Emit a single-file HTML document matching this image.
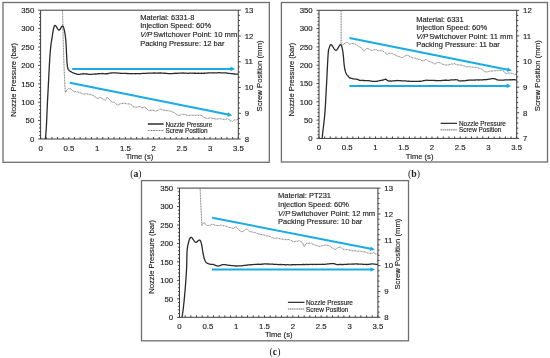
<!DOCTYPE html>
<html><head><meta charset="utf-8"><style>
html,body{margin:0;padding:0;background:#fff;}
body{width:550px;height:358px;overflow:hidden;}
svg{display:block;}
</style></head><body>
<svg width="550" height="358" viewBox="0 0 550 358">
<rect width="550" height="358" fill="#fff"/>
<clipPath id="clipa"><rect x="40.6" y="10.2" width="197.7" height="128.8"/></clipPath>
<rect x="3" y="2.5" width="266.3" height="159.8" fill="#fff" stroke="#6e6e6e" stroke-width="1.3"/>
<path d="M40.6 10.2H238.3V139H40.6Z" fill="none" stroke="#3c3c3c" stroke-width="1"/>
<path d="M38.1 139H40.6M39 135.32H40.6M39 131.64H40.6M39 127.96H40.6M39 124.28H40.6M38.1 120.6H40.6M39 116.92H40.6M39 113.24H40.6M39 109.56H40.6M39 105.88H40.6M38.1 102.2H40.6M39 98.52H40.6M39 94.84H40.6M39 91.16H40.6M39 87.48H40.6M38.1 83.8H40.6M39 80.12H40.6M39 76.44H40.6M39 72.76H40.6M39 69.08H40.6M38.1 65.4H40.6M39 61.72H40.6M39 58.04H40.6M39 54.36H40.6M39 50.68H40.6M38.1 47H40.6M39 43.32H40.6M39 39.64H40.6M39 35.96H40.6M39 32.28H40.6M38.1 28.6H40.6M39 24.92H40.6M39 21.24H40.6M39 17.56H40.6M39 13.88H40.6M38.1 10.2H40.6M238.3 139H240.8M238.3 133.85H239.9M238.3 128.7H239.9M238.3 123.54H239.9M238.3 118.39H239.9M238.3 113.24H240.8M238.3 108.09H239.9M238.3 102.94H239.9M238.3 97.78H239.9M238.3 92.63H239.9M238.3 87.48H240.8M238.3 82.33H239.9M238.3 77.18H239.9M238.3 72.02H239.9M238.3 66.87H239.9M238.3 61.72H240.8M238.3 56.57H239.9M238.3 51.42H239.9M238.3 46.26H239.9M238.3 41.11H239.9M238.3 35.96H240.8M238.3 30.81H239.9M238.3 25.66H239.9M238.3 20.5H239.9M238.3 15.35H239.9M238.3 10.2H240.8M40.6 137V139M46.25 137V139M51.9 137V139M57.55 137V139M63.19 137V139M68.84 137V139M74.49 137V139M80.14 137V139M85.79 137V139M91.44 137V139M97.09 137V139M102.73 137V139M108.38 137V139M114.03 137V139M119.68 137V139M125.33 137V139M130.98 137V139M136.63 137V139M142.27 137V139M147.92 137V139M153.57 137V139M159.22 137V139M164.87 137V139M170.52 137V139M176.17 137V139M181.81 137V139M187.46 137V139M193.11 137V139M198.76 137V139M204.41 137V139M210.06 137V139M215.71 137V139M221.35 137V139M227 137V139M232.65 137V139M238.3 137V139" fill="none" stroke="#333" stroke-width="0.9"/>
<g font-family='"Liberation Sans", Arial, sans-serif' font-size="7.8" fill="#222" stroke="#222" stroke-width="0.15"><text x="34.3" y="141.75" text-anchor="end">0</text><text x="34.3" y="123.35" text-anchor="end">50</text><text x="34.3" y="104.95" text-anchor="end">100</text><text x="34.3" y="86.55" text-anchor="end">150</text><text x="34.3" y="68.15" text-anchor="end">200</text><text x="34.3" y="49.75" text-anchor="end">250</text><text x="34.3" y="31.35" text-anchor="end">300</text><text x="34.3" y="12.95" text-anchor="end">350</text><text x="244.7" y="141.75">8</text><text x="244.7" y="115.99">9</text><text x="244.7" y="90.23">10</text><text x="244.7" y="64.47">11</text><text x="244.7" y="38.71">12</text><text x="244.7" y="12.95">13</text><text x="40.6" y="150.5" text-anchor="middle">0</text><text x="68.84" y="150.5" text-anchor="middle">0.5</text><text x="97.09" y="150.5" text-anchor="middle">1</text><text x="125.33" y="150.5" text-anchor="middle">1.5</text><text x="153.57" y="150.5" text-anchor="middle">2</text><text x="181.81" y="150.5" text-anchor="middle">2.5</text><text x="210.06" y="150.5" text-anchor="middle">3</text><text x="238.3" y="150.5" text-anchor="middle">3.5</text></g>
<g font-family='"Liberation Sans", Arial, sans-serif' font-size="7.6" fill="#222" stroke="#222" stroke-width="0.15"><text x="139.45" y="158.5" text-anchor="middle">Time (s)</text><text transform="translate(16 79.8) rotate(-90)" text-anchor="middle">Nozzle Pressure (bar)</text><text transform="translate(261.5 76) rotate(-90)" text-anchor="middle" font-size="7.7">Screw Position (mm)</text></g>
<g clip-path="url(#clipa)">
<path d="M40.6 139L41.04 139.36L41.67 140.21L42.41 141.18L43.2 141.9L43.99 142.02L44.71 141.18L45.3 139L45.35 138.69L45.4 138.36L45.45 138.02L45.5 137.66L45.55 137.29L45.59 136.9L45.64 136.49L45.68 136.07L45.73 135.64L45.77 135.19L45.81 134.73L45.86 134.26L45.9 133.77L45.94 133.27L45.98 132.76L46.02 132.24L46.05 131.7L46.09 131.16L46.13 130.6L46.17 130.03L46.2 129.46L46.24 128.87L46.27 128.28L46.31 127.67L46.34 127.06L46.38 126.44L46.41 125.82L46.44 125.18L46.48 124.54L46.51 123.89L46.54 123.24L46.57 122.58L46.6 121.91L46.63 121.24L46.67 120.57L46.7 119.89L46.73 119.21L46.76 118.52L46.79 117.83L46.82 117.14L46.85 116.44L46.88 115.75L46.9 115.05L46.93 114.35L46.96 113.65L46.99 112.94L47.02 112.24L47.05 111.54L47.08 110.84L47.11 110.14L47.14 109.44L47.17 108.74L47.2 108.05L47.23 107.36L47.26 106.67L47.29 105.98L47.32 105.3L47.35 104.62L47.38 103.94L47.41 103.27L47.44 102.6L47.47 101.94L47.5 101.29L47.53 100.64L47.57 100L47.6 99.36L47.63 98.73L47.67 98.11L47.7 97.5L47.73 96.9L47.77 96.29L47.8 95.68L47.83 95.06L47.87 94.44L47.9 93.81L47.93 93.18L47.97 92.54L48 91.91L48.04 91.26L48.07 90.62L48.1 89.97L48.14 89.32L48.17 88.67L48.2 88.01L48.24 87.35L48.27 86.69L48.3 86.03L48.34 85.37L48.37 84.71L48.4 84.04L48.44 83.38L48.47 82.71L48.5 82.04L48.54 81.38L48.57 80.71L48.6 80.05L48.64 79.38L48.67 78.72L48.7 78.05L48.74 77.39L48.77 76.73L48.8 76.07L48.84 75.42L48.87 74.76L48.9 74.11L48.93 73.46L48.97 72.81L49 72.17L49.03 71.53L49.07 70.9L49.1 70.26L49.13 69.63L49.16 69.01L49.2 68.39L49.23 67.77L49.26 67.16L49.3 66.56L49.33 65.96L49.36 65.36L49.39 64.78L49.43 64.19L49.46 63.62L49.49 63.05L49.52 62.48L49.55 61.93L49.59 61.38L49.62 60.84L49.65 60.3L49.68 59.78L49.71 59.26L49.75 58.75L49.78 58.25L49.81 57.76L49.84 57.27L49.87 56.8L49.91 56.34L49.94 55.88L49.97 55.44L50 55L50.08 53.99L50.15 53.02L50.22 52.11L50.3 51.24L50.37 50.41L50.44 49.62L50.51 48.87L50.58 48.16L50.65 47.48L50.72 46.83L50.79 46.21L50.86 45.61L50.93 45.04L51 44.49L51.07 43.96L51.14 43.45L51.21 42.95L51.28 42.47L51.35 41.99L51.42 41.53L51.49 41.07L51.56 40.61L51.64 40.15L51.71 39.69L51.79 39.23L51.86 38.76L51.94 38.29L52.02 37.8L52.1 37.3L52.22 36.52L52.34 35.74L52.46 34.95L52.58 34.16L52.71 33.38L52.83 32.61L52.95 31.85L53.07 31.12L53.2 30.41L53.33 29.72L53.46 29.08L53.6 28.46L53.74 27.89L53.88 27.37L54.03 26.9L54.19 26.48L54.35 26.12L54.52 25.83L54.7 25.6L55.06 25.43L55.46 25.6L55.88 26.02L56.32 26.64L56.77 27.36L57.23 28.13L57.69 28.86L58.14 29.48L58.58 29.92L59 30.1L59.46 29.95L59.92 29.51L60.38 28.87L60.83 28.12L61.28 27.37L61.71 26.7L62.13 26.22L62.53 26.02L62.9 26.2L63.07 26.42L63.24 26.7L63.4 27.04L63.56 27.44L63.72 27.88L63.87 28.37L64.02 28.9L64.16 29.48L64.31 30.08L64.44 30.72L64.58 31.39L64.71 32.08L64.83 32.8L64.96 33.52L65.07 34.27L65.19 35.02L65.3 35.78L65.4 36.54L65.5 37.3L65.56 37.81L65.62 38.34L65.68 38.9L65.73 39.48L65.79 40.08L65.84 40.69L65.88 41.32L65.93 41.96L65.97 42.62L66.01 43.28L66.05 43.95L66.09 44.63L66.13 45.31L66.16 45.99L66.2 46.66L66.23 47.34L66.26 48.01L66.29 48.68L66.32 49.34L66.35 49.98L66.38 50.62L66.41 51.23L66.44 51.84L66.46 52.42L66.49 52.99L66.52 53.53L66.55 54.05L66.57 54.54L66.6 55L66.66 55.95L66.7 56.82L66.74 57.6L66.78 58.32L66.81 58.98L66.84 59.59L66.86 60.16L66.89 60.7L66.92 61.22L66.96 61.73L67 62.24L67.04 62.76L67.1 63.3L67.18 64.01L67.25 64.7L67.32 65.37L67.39 66.02L67.47 66.65L67.57 67.25L67.69 67.81L67.83 68.35L68 68.84L68.2 69.3L68.55 69.87L68.97 70.35L69.44 70.75L69.95 71.1L70.47 71.41L70.99 71.63L71.5 72.03L72.09 72.4L72.7 72.6L73.32 72.85L73.94 73.07L74.54 73.32L75.1 73.57L75.68 73.7L76.17 73.86L76.66 74.19L77.25 74.32L78 74.45L78.52 74.32L79.09 74.3L79.72 74.29L80.38 74.13L81.06 74.13L81.76 74.08L82.46 73.84L83.14 73.71L83.8 73.75L84.44 73.88L85.09 73.88L85.73 73.9L86.37 74L87.02 74.02L87.66 74.12L88.3 74.24L88.95 74.34L89.6 74.33L90.25 74.31L90.89 74.28L91.54 74.29L92.18 74.22L92.83 74.11L93.49 74.18L94.15 74.13L94.82 74.09L95.5 73.95L96.13 74.03L96.79 74L97.45 73.81L98.13 73.72L98.81 73.73L99.48 73.7L100.14 73.71L100.79 73.59L101.41 73.6L102 73.58L102.71 73.51L103.4 73.56L104.07 73.68L104.72 73.77L105.34 73.78L105.93 73.82L106.48 73.73L107 73.71L107.7 73.73L108.25 73.56L108.75 73.32L109.3 73.2L110 73.13L110.53 73.1L111.11 73L111.73 72.95L112.38 72.93L113.04 72.97L113.7 72.93L114.36 72.89L115 72.89L115.59 72.82L116.13 72.8L116.66 72.94L117.19 73.09L117.76 73.12L118.4 73.11L119.14 73.09L120 73.17L120.49 73.3L121.01 73.34L121.57 73.33L122.15 73.4L122.76 73.32L123.38 73.36L124.03 73.48L124.69 73.47L125.36 73.46L126.03 73.43L126.71 73.49L127.38 73.61L128.05 73.49L128.72 73.59L129.37 73.66L130 73.72L130.63 73.72L131.28 73.75L131.95 73.71L132.62 73.7L133.29 73.68L133.97 73.6L134.64 73.72L135.31 73.73L135.97 73.66L136.62 73.69L137.24 73.7L137.85 73.68L138.43 73.67L138.99 73.7L139.51 73.72L140 73.73L140.8 73.68L141.37 73.54L141.8 73.48L142.19 73.4L142.61 73.42L143.16 73.45L143.93 73.43L145 73.4L145.42 73.4L145.88 73.28L146.37 73.33L146.89 73.32L147.44 73.19L148.02 73.1L148.62 73.05L149.23 73.17L149.87 73.12L150.52 73.06L151.18 73.13L151.85 73.1L152.53 73.03L153.2 73.01L153.88 73.06L154.55 73.02L155.22 73.01L155.88 73.1L156.53 73.08L157.16 73.05L157.77 73.06L158.37 72.98L158.94 73.01L159.48 73.04L160 73.01L160.76 72.99L161.49 73.15L162.18 73.18L162.85 73.15L163.49 73.23L164.12 73.34L164.72 73.26L165.31 73.24L165.89 73.28L166.47 73.43L167.04 73.41L167.62 73.53L168.2 73.59L168.78 73.61L169.38 73.55L170 73.67L170.62 73.69L171.25 73.63L171.88 73.53L172.5 73.55L173.12 73.48L173.75 73.47L174.38 73.39L175 73.39L175.62 73.25L176.25 73.21L176.88 73.3L177.5 73.31L178.12 73.18L178.75 73.22L179.38 73.12L180 73.19L180.62 73.18L181.25 73.11L181.88 73.05L182.5 72.97L183.12 73.1L183.75 73.01L184.38 73.12L185 73.22L185.62 73.19L186.25 73.1L186.88 73.21L187.5 73.28L188.12 73.28L188.75 73.24L189.38 73.19L190 73.17L190.62 73.13L191.25 73.21L191.88 73.21L192.5 73.17L193.12 73.13L193.75 73.24L194.38 73.22L195 73.25L195.62 73.24L196.25 73.35L196.88 73.41L197.5 73.27L198.12 73.23L198.75 73.24L199.38 73.37L200 73.39L200.62 73.3L201.25 73.22L201.88 73.26L202.5 73.3L203.12 73.32L203.75 73.2L204.38 73.23L205 73.2L205.62 73.12L206.25 73.17L206.88 73.02L207.5 73.04L208.12 72.9L208.75 72.84L209.38 72.95L210 72.86L210.63 72.92L211.26 72.91L211.9 72.94L212.55 72.86L213.19 72.81L213.84 72.77L214.48 72.86L215.12 72.84L215.76 72.91L216.4 72.92L217.02 72.78L217.64 72.79L218.25 72.71L218.85 72.66L219.43 72.64L220 72.8L220.68 72.87L221.35 72.92L222 72.86L222.64 72.9L223.27 72.97L223.88 72.93L224.49 72.97L225.09 72.94L225.68 72.92L226.26 72.96L226.84 73.13L227.42 73.18L228 73.3L228.69 73.31L229.38 73.32L230.08 73.48L230.77 73.61L231.46 73.57L232.12 73.72L232.77 73.73L233.38 73.78L233.97 74L234.51 73.96L235 74.01L235.95 74.22L236.74 74.21L237.4 74.13L237.91 74.1L238.3 74.1" fill="none" stroke="#2a2a2a" stroke-width="1.3" stroke-linejoin="round"/>
<path d="M62.4 0L62.5 10L62.51 10.26L62.51 10.53L62.52 10.81L62.53 11.11L62.53 11.42L62.54 11.74L62.55 12.07L62.56 12.42L62.57 12.77L62.58 13.14L62.58 13.52L62.59 13.91L62.6 14.31L62.61 14.72L62.62 15.14L62.63 15.57L62.64 16.01L62.65 16.45L62.66 16.91L62.67 17.38L62.69 17.85L62.7 18.33L62.71 18.82L62.72 19.31L62.73 19.81L62.74 20.32L62.76 20.84L62.77 21.36L62.78 21.89L62.79 22.42L62.81 22.96L62.82 23.5L62.83 24.05L62.84 24.61L62.86 25.16L62.87 25.72L62.88 26.29L62.9 26.86L62.91 27.43L62.93 28L62.94 28.58L62.95 29.15L62.97 29.73L62.98 30.32L62.99 30.9L63.01 31.48L63.02 32.07L63.04 32.66L63.05 33.24L63.07 33.83L63.08 34.41L63.1 35L63.11 35.58L63.12 36.17L63.14 36.75L63.15 37.33L63.17 37.91L63.18 38.48L63.2 39.05L63.21 39.62L63.23 40.19L63.24 40.76L63.26 41.32L63.27 41.87L63.29 42.42L63.3 42.97L63.32 43.51L63.33 44.05L63.34 44.58L63.36 45.11L63.37 45.63L63.39 46.14L63.4 46.65L63.42 47.15L63.43 47.65L63.44 48.13L63.46 48.61L63.47 49.08L63.49 49.55L63.5 50L63.52 50.56L63.53 51.13L63.55 51.69L63.57 52.26L63.59 52.83L63.61 53.4L63.63 53.97L63.64 54.54L63.66 55.11L63.68 55.68L63.7 56.25L63.72 56.82L63.74 57.39L63.76 57.96L63.78 58.53L63.8 59.09L63.82 59.66L63.84 60.23L63.86 60.79L63.88 61.35L63.9 61.91L63.92 62.47L63.94 63.03L63.96 63.58L63.98 64.14L64 64.69L64.02 65.23L64.04 65.78L64.06 66.32L64.08 66.85L64.1 67.39L64.12 67.92L64.15 68.45L64.17 68.97L64.19 69.49L64.21 70L64.23 70.51L64.25 71.02L64.27 71.52L64.29 72.01L64.3 72.5L64.32 72.99L64.34 73.47L64.36 73.95L64.38 74.41L64.4 74.88L64.42 75.33L64.44 75.78L64.46 76.23L64.47 76.66L64.49 77.1L64.51 77.52L64.53 77.94L64.54 78.34L64.56 78.75L64.58 79.14L64.59 79.53L64.61 79.91L64.63 80.28L64.64 80.64L64.66 80.99L64.67 81.34L64.69 81.67L64.7 82L64.75 83.09L64.79 84.08L64.84 84.97L64.88 85.76L64.91 86.47L64.95 87.11L64.98 87.67L65.01 88.17L65.04 88.62L65.07 89.02L65.1 89.37L65.13 89.69L65.16 89.99L65.18 90.26L65.21 90.52L65.24 90.78L65.27 91.03L65.3 91.3L65.51 92.39L65.8 92.03L66.02 91.62L66.27 90.98L66.59 90.22L67 89.94L67.32 89.6L67.68 89.33L68.08 88.8L68.51 88.58L68.98 88.18L69.5 88.33L69.87 88.5L70.27 88.61L70.69 88.93L71.12 89.38L71.57 89.58L72.04 90.07L72.52 90.63L73 90.78L73.5 91.23L73.96 91.44L74.45 91.68L74.95 91.6L75.46 91.47L75.98 91.8L76.5 92.01L77.01 91.97L77.52 91.82L78.02 91.85L78.5 92.15L79.02 92.22L79.52 92.67L80.01 92.81L80.5 92.77L80.98 93.06L81.46 93.14L81.93 93.54L82.41 93.79L82.9 93.76L83.44 93.84L83.97 93.92L84.49 94.01L85.01 94.15L85.55 93.76L86.1 93.75L86.68 93.91L87.3 93.9L87.78 94.09L88.29 93.98L88.82 94.38L89.36 94.46L89.92 94.36L90.48 94.66L91.04 94.71L91.58 94.76L92.11 95.02L92.62 95.07L93.1 95.24L93.6 95.8L94.09 96.18L94.57 96.21L95.03 96.8L95.48 96.9L95.92 97.27L96.33 97.89L96.74 98.17L97.13 98.23L97.5 98.32L98.09 98.33L98.63 98.01L99.13 98.09L99.59 97.49L100.01 97.28L100.4 97.36L100.97 97.5L101.39 98.22L102 98.49L102.4 98.97L102.86 99.34L103.37 99.57L103.9 99.94L104.42 99.99L104.89 100.22L105.3 100.26L105.68 99.9L106 99.35L106.27 98.84L106.53 98.16L106.79 97.5L107.1 97.52L107.44 97.48L107.8 97.8L108.17 98.37L108.55 98.61L108.93 98.9L109.3 99.27L109.66 99.86L110.01 100.25L110.36 100.6L110.71 101.06L111.09 101.67L111.5 101.75L112.04 101.94L112.61 102.27L113.21 102.32L113.81 102.24L114.4 102.46L114.81 102.74L115.21 102.92L115.61 103.35L116.01 103.73L116.42 104.33L116.85 104.49L117.3 104.75L117.77 104.97L118.25 104.94L118.75 104.51L119.26 104.27L119.79 103.89L120.34 103.66L120.9 103.56L121.4 103.67L121.91 103.79L122.43 103.52L122.96 103.25L123.51 103.35L124.08 103.23L124.68 103.17L125.3 103.55L125.79 103.42L126.32 103.67L126.88 103.64L127.46 103.94L128.04 104.08L128.63 103.79L129.2 103.75L129.74 104.16L130.25 104.26L130.7 104.28L131.1 104.55L131.66 104.98L132.05 105.3L132.34 105.72L132.6 105.98L132.89 106.43L133.3 106.64L133.75 107.01L134.27 107.22L134.82 107.11L135.38 107.3L135.93 107.12L136.45 107.02L136.9 107.22L137.53 107.09L138.04 107.04L138.53 106.76L139.1 106.68L139.54 106.46L140.01 106.83L140.49 106.76L140.99 107.1L141.5 107.49L142 107.7L142.5 107.75L143 107.48L143.51 107.4L144.02 107.38L144.55 107.09L145.1 107.49L145.47 107.81L145.85 107.92L146.23 108.35L146.62 108.62L147.02 108.87L147.42 109.41L147.84 109.51L148.26 110.05L148.7 110.47L149.22 110.36L149.78 110.61L150.36 110.27L150.94 110.45L151.52 110.2L152.09 110.4L152.62 110.24L153.1 110.45L153.66 110.25L154.15 110.34L154.6 110.91L155.04 111.22L155.49 111.35L156 111.1L156.41 110.89L156.83 110.7L157.26 110.24L157.71 110.27L158.16 109.98L158.63 109.79L159.11 109.48L159.6 109.15L160.05 108.92L160.51 109.21L160.98 109.16L161.46 109.46L161.95 109.7L162.45 109.95L162.96 109.96L163.48 110.04L164 110.35L164.48 110.26L164.99 110.48L165.5 110.41L166.02 110.45L166.55 110.4L167.08 110.6L167.6 110.62L168.11 110.57L168.62 110.58L169.1 110.81L169.62 111.18L170.13 111.18L170.62 111.13L171.11 111.27L171.59 111.39L172.07 111.72L172.54 112.09L173.02 112.27L173.5 112.29L173.99 112.5L174.5 112.8L175.02 113.15L175.53 113.46L176.04 114.08L176.53 114.32L176.99 114.62L177.41 114.89L177.8 115.06L178.49 115.39L179.02 115.3L179.49 115.36L180 115.49L180.4 115.08L180.75 114.98L181.14 114.7L181.65 114.33L182.4 114.15L182.76 114.47L183.17 114.32L183.6 114.58L184.07 114.43L184.56 114.53L185.08 114.45L185.61 114.71L186.16 114.99L186.71 114.89L187.26 115.04L187.81 115.32L188.36 115.16L188.9 115.18L189.4 115.33L189.91 115.47L190.44 115.19L190.97 115.3L191.51 115.08L192.05 114.96L192.59 115.33L193.13 115.04L193.67 115.33L194.2 115.39L194.72 115.37L195.23 115.4L195.72 115.37L196.2 115.18L196.79 115.17L197.39 115.04L197.97 115.29L198.54 115.38L199.1 115.42L199.64 115.17L200.17 115.24L200.67 115.14L201.14 115.39L201.59 115.55L202 115.83L202.55 116.04L203 116.38L203.37 116.84L203.7 116.97L204.05 117.49L204.43 117.62L204.9 117.92L205.36 117.94L205.84 118.35L206.34 118.06L206.87 118.33L207.42 118.44L208.01 118.21L208.63 118.3L209.3 117.99L209.74 117.9L210.2 117.82L210.69 117.85L211.19 117.87L211.71 118.33L212.24 118.23L212.78 118.47L213.32 118.46L213.86 118.43L214.39 118.58L214.91 118.57L215.41 118.98L215.9 118.9L216.47 118.98L217.03 119L217.6 119.04L218.16 118.98L218.71 118.83L219.25 118.69L219.78 118.98L220.29 118.78L220.78 118.8L221.25 119L221.7 118.99L222.35 119.22L222.96 119.31L223.52 119.26L224.04 119.08L224.52 119.25L224.97 119.28L225.4 119.47L226.04 119.23L226.54 118.98L227.01 118.8L227.5 118.6L227.93 118.87L228.37 119.24L228.82 119.27L229.26 119.86L229.7 120.29L230.14 120.66L230.58 120.8L231.02 121L231.46 121.14L231.9 121.32L232.43 121.49L232.96 121.07L233.5 120.46L234.1 120.17L234.56 119.92L235.07 119.98L235.61 120.02L236.13 120.05L236.6 119.61L237 119.5L237.83 119.31L238.3 119.69" fill="none" stroke="#4a4a4a" stroke-width="0.8" stroke-dasharray="1 0.6"/>
</g>
<path d="M72.2 68.9L231 68.9" stroke="#19abe5" stroke-width="2"/>
<path d="M235.1 68.9L230.5 71.2L230.5 66.6Z" fill="#19abe5"/>
<path d="M69.8 82.8L228.18 114.59" stroke="#19abe5" stroke-width="2"/>
<path d="M232.2 115.4L227.24 116.75L228.14 112.24Z" fill="#19abe5"/>
<g font-family='"Liberation Sans", Arial, sans-serif' font-size="7.5" fill="#222" stroke="#222" stroke-width="0.15"><text x="140.2" y="19.8">Material: 6331-8</text><text x="140.2" y="28.4">Injection Speed: 60%</text><text x="140.2" y="37"><tspan font-style="italic">V/P</tspan><tspan dx="1" font-size="7.6">Switchover Point: 10 mm</tspan></text><text x="140.2" y="45.6">Packing Pressure: 12 bar</text></g>
<path d="M147.8 124H163.6" stroke="#5a5a5a" stroke-width="1.9"/>
<path d="M147.8 130.5H163.6" stroke="#666" stroke-width="0.9" stroke-dasharray="1 0.6"/>
<g font-family='"Liberation Sans", Arial, sans-serif' font-size="6.4" fill="#222" stroke="#222" stroke-width="0.15"><text x="165.4" y="126.9">Nozzle Pressure</text><text x="165.4" y="133">Screw Position</text></g>
<clipPath id="clipb"><rect x="319" y="10.3" width="197.7" height="128.1"/></clipPath>
<rect x="281.4" y="2.5" width="266.1" height="159.5" fill="#fff" stroke="#6e6e6e" stroke-width="1.3"/>
<path d="M319 10.3H516.7V138.4H319Z" fill="none" stroke="#3c3c3c" stroke-width="1"/>
<path d="M316.5 138.4H319M317.4 134.74H319M317.4 131.08H319M317.4 127.42H319M317.4 123.76H319M316.5 120.1H319M317.4 116.44H319M317.4 112.78H319M317.4 109.12H319M317.4 105.46H319M316.5 101.8H319M317.4 98.14H319M317.4 94.48H319M317.4 90.82H319M317.4 87.16H319M316.5 83.5H319M317.4 79.84H319M317.4 76.18H319M317.4 72.52H319M317.4 68.86H319M316.5 65.2H319M317.4 61.54H319M317.4 57.88H319M317.4 54.22H319M317.4 50.56H319M316.5 46.9H319M317.4 43.24H319M317.4 39.58H319M317.4 35.92H319M317.4 32.26H319M316.5 28.6H319M317.4 24.94H319M317.4 21.28H319M317.4 17.62H319M317.4 13.96H319M316.5 10.3H319M516.7 138.4H519.2M516.7 133.28H518.3M516.7 128.15H518.3M516.7 123.03H518.3M516.7 117.9H518.3M516.7 112.78H519.2M516.7 107.66H518.3M516.7 102.53H518.3M516.7 97.41H518.3M516.7 92.28H518.3M516.7 87.16H519.2M516.7 82.04H518.3M516.7 76.91H518.3M516.7 71.79H518.3M516.7 66.66H518.3M516.7 61.54H519.2M516.7 56.42H518.3M516.7 51.29H518.3M516.7 46.17H518.3M516.7 41.04H518.3M516.7 35.92H519.2M516.7 30.8H518.3M516.7 25.67H518.3M516.7 20.55H518.3M516.7 15.42H518.3M516.7 10.3H519.2M319 136.4V138.4M324.65 136.4V138.4M330.3 136.4V138.4M335.95 136.4V138.4M341.59 136.4V138.4M347.24 136.4V138.4M352.89 136.4V138.4M358.54 136.4V138.4M364.19 136.4V138.4M369.84 136.4V138.4M375.49 136.4V138.4M381.13 136.4V138.4M386.78 136.4V138.4M392.43 136.4V138.4M398.08 136.4V138.4M403.73 136.4V138.4M409.38 136.4V138.4M415.03 136.4V138.4M420.67 136.4V138.4M426.32 136.4V138.4M431.97 136.4V138.4M437.62 136.4V138.4M443.27 136.4V138.4M448.92 136.4V138.4M454.57 136.4V138.4M460.21 136.4V138.4M465.86 136.4V138.4M471.51 136.4V138.4M477.16 136.4V138.4M482.81 136.4V138.4M488.46 136.4V138.4M494.11 136.4V138.4M499.75 136.4V138.4M505.4 136.4V138.4M511.05 136.4V138.4M516.7 136.4V138.4" fill="none" stroke="#333" stroke-width="0.9"/>
<g font-family='"Liberation Sans", Arial, sans-serif' font-size="7.8" fill="#222" stroke="#222" stroke-width="0.15"><text x="312.7" y="141.15" text-anchor="end">0</text><text x="312.7" y="122.85" text-anchor="end">50</text><text x="312.7" y="104.55" text-anchor="end">100</text><text x="312.7" y="86.25" text-anchor="end">150</text><text x="312.7" y="67.95" text-anchor="end">200</text><text x="312.7" y="49.65" text-anchor="end">250</text><text x="312.7" y="31.35" text-anchor="end">300</text><text x="312.7" y="13.05" text-anchor="end">350</text><text x="523.1" y="141.15">7</text><text x="523.1" y="115.53">8</text><text x="523.1" y="89.91">9</text><text x="523.1" y="64.29">10</text><text x="523.1" y="38.67">11</text><text x="523.1" y="13.05">12</text><text x="319" y="149.9" text-anchor="middle">0</text><text x="347.24" y="149.9" text-anchor="middle">0.5</text><text x="375.49" y="149.9" text-anchor="middle">1</text><text x="403.73" y="149.9" text-anchor="middle">1.5</text><text x="431.97" y="149.9" text-anchor="middle">2</text><text x="460.21" y="149.9" text-anchor="middle">2.5</text><text x="488.46" y="149.9" text-anchor="middle">3</text><text x="516.7" y="149.9" text-anchor="middle">3.5</text></g>
<g font-family='"Liberation Sans", Arial, sans-serif' font-size="7.6" fill="#222" stroke="#222" stroke-width="0.15"><text x="419.65" y="158.9" text-anchor="middle">Time (s)</text><text transform="translate(294.4 79.55) rotate(-90)" text-anchor="middle">Nozzle Pressure (bar)</text><text transform="translate(539.9 75.75) rotate(-90)" text-anchor="middle" font-size="7.7">Screw Position (mm)</text></g>
<g clip-path="url(#clipb)">
<path d="M319 138.4L319.54 138.57L320.33 138.85L321.15 138.91L321.8 138.4L321.95 138.09L322.07 137.75L322.17 137.37L322.26 136.95L322.33 136.48L322.4 135.96L322.46 135.37L322.53 134.7L322.6 133.96L322.68 133.14L322.78 132.22L322.9 131.2L322.95 130.78L323 130.34L323.06 129.89L323.12 129.43L323.18 128.96L323.24 128.47L323.3 127.97L323.36 127.46L323.43 126.93L323.49 126.39L323.56 125.84L323.63 125.28L323.7 124.71L323.76 124.13L323.83 123.53L323.9 122.93L323.97 122.31L324.04 121.69L324.11 121.05L324.18 120.4L324.25 119.75L324.32 119.08L324.39 118.41L324.46 117.72L324.52 117.03L324.59 116.33L324.65 115.62L324.72 114.9L324.78 114.18L324.84 113.44L324.9 112.7L324.94 112.19L324.98 111.68L325.02 111.16L325.05 110.63L325.09 110.1L325.13 109.56L325.17 109.01L325.2 108.46L325.24 107.9L325.27 107.34L325.31 106.77L325.35 106.19L325.38 105.61L325.42 105.03L325.45 104.44L325.49 103.84L325.52 103.25L325.56 102.64L325.59 102.04L325.62 101.43L325.66 100.82L325.69 100.2L325.72 99.58L325.76 98.96L325.79 98.34L325.83 97.71L325.86 97.08L325.89 96.45L325.93 95.82L325.96 95.18L325.99 94.55L326.03 93.91L326.06 93.27L326.09 92.64L326.13 92L326.16 91.36L326.19 90.72L326.23 90.08L326.26 89.44L326.29 88.8L326.33 88.17L326.36 87.53L326.4 86.9L326.43 86.26L326.47 85.63L326.5 85L326.53 84.42L326.56 83.82L326.6 83.22L326.63 82.6L326.66 81.98L326.7 81.35L326.73 80.71L326.76 80.06L326.79 79.41L326.83 78.75L326.86 78.09L326.89 77.42L326.93 76.75L326.96 76.07L327 75.39L327.03 74.71L327.06 74.03L327.1 73.35L327.13 72.67L327.16 71.99L327.2 71.31L327.23 70.63L327.26 69.95L327.3 69.28L327.33 68.61L327.36 67.94L327.4 67.28L327.43 66.62L327.46 65.97L327.5 65.33L327.53 64.69L327.56 64.07L327.59 63.45L327.62 62.83L327.66 62.23L327.69 61.64L327.72 61.06L327.75 60.49L327.78 59.94L327.81 59.4L327.84 58.87L327.87 58.35L327.9 57.85L327.93 57.36L327.96 56.89L327.99 56.44L328.02 56L328.05 55.58L328.07 55.18L328.1 54.8L328.22 53.28L328.32 52.06L328.41 51.11L328.49 50.38L328.58 49.83L328.66 49.41L328.75 49.08L328.84 48.8L328.95 48.52L329.06 48.2L329.2 47.8L329.46 46.96L329.73 46.16L330.03 45.46L330.38 44.94L330.79 44.67L331.3 44.7L331.6 44.9L331.92 45.26L332.27 45.75L332.64 46.34L333.03 46.98L333.44 47.66L333.85 48.32L334.27 48.94L334.68 49.48L335.1 49.91L335.51 50.2L335.9 50.3L336.3 50.18L336.71 49.87L337.12 49.39L337.55 48.79L337.97 48.11L338.39 47.39L338.81 46.69L339.21 46.03L339.59 45.46L339.95 45.02L340.29 44.75L340.6 44.7L340.88 44.84L341.13 45.09L341.36 45.46L341.58 45.93L341.77 46.49L341.96 47.13L342.13 47.84L342.29 48.6L342.44 49.41L342.6 50.25L342.75 51.12L342.9 52L342.98 52.48L343.05 52.99L343.13 53.54L343.19 54.11L343.26 54.71L343.32 55.33L343.39 55.97L343.45 56.62L343.5 57.28L343.56 57.95L343.62 58.63L343.67 59.31L343.73 59.98L343.78 60.65L343.83 61.32L343.89 61.97L343.94 62.6L344 63.22L344.06 63.81L344.11 64.38L344.17 64.92L344.24 65.43L344.3 65.9L344.44 66.81L344.57 67.64L344.7 68.41L344.84 69.11L344.97 69.76L345.11 70.36L345.26 70.92L345.41 71.44L345.56 71.95L345.73 72.43L345.9 72.9L346.24 73.68L346.61 74.32L346.99 74.86L347.39 75.33L347.8 75.77L348.2 76.2L348.61 76.69L348.95 77.13L349.34 77.6L349.88 78L350.7 78.18L351.16 78.24L351.71 78.48L352.33 78.64L353.01 78.76L353.71 78.8L354.44 78.94L355.16 79.05L355.86 79.15L356.52 79.17L357.13 79.27L357.66 79.37L358.1 79.52L358.91 79.96L359.12 80.3L360 80.48L360.42 80.47L360.9 80.44L361.45 80.4L362.04 80.38L362.68 80.46L363.34 80.48L364.02 80.51L364.72 80.64L365.41 80.63L366.1 80.65L366.76 80.6L367.4 80.55L368 80.61L368.67 80.63L369.33 80.76L369.98 80.96L370.62 81.04L371.25 81.02L371.87 81.19L372.5 81.29L373.12 81.34L373.74 81.42L374.37 81.42L375 81.42L375.65 81.29L376.32 81.31L377 81.27L377.68 81.03L378.36 80.96L379.03 80.86L379.69 80.69L380.32 80.56L380.92 80.42L381.48 80.39L382 80.24L382.83 80.08L383.54 79.77L384.17 79.6L384.73 79.44L385.27 79.26L385.8 79.24L386.35 79.52L386.78 79.92L387.2 80.34L387.73 80.7L388.5 80.95L389.01 81.07L389.6 81.01L390.25 81.11L390.95 81L391.67 81.04L392.4 80.9L393.11 80.93L393.8 80.87L394.43 80.78L395 80.73L395.72 80.71L396.24 80.66L396.69 80.57L397.2 80.5L397.93 80.54L399 80.67L399.43 80.68L399.9 80.59L400.41 80.71L400.96 80.77L401.53 80.86L402.14 80.78L402.76 80.88L403.4 80.81L404.06 80.92L404.72 80.92L405.39 80.94L406.07 81.1L406.74 81.04L407.4 81.12L408.06 81.24L408.7 81.2L409.32 81.18L409.93 81.32L410.5 81.31L411.17 81.37L411.83 81.27L412.49 81.29L413.15 81.28L413.8 81.37L414.44 81.3L415.08 81.45L415.71 81.33L416.33 81.42L416.94 81.31L417.54 81.3L418.12 81.4L418.69 81.31L419.24 81.26L419.78 81.32L420.3 81.27L421.05 81.13L421.71 81.19L422.29 80.99L422.83 80.79L423.35 80.69L423.89 80.63L424.48 80.57L425.14 80.37L425.9 80.29L426.8 80.18L427.28 80.21L427.77 80.3L428.29 80.34L428.82 80.4L429.37 80.41L429.94 80.45L430.53 80.45L431.13 80.42L431.74 80.36L432.36 80.44L433 80.42L433.65 80.39L434.31 80.45L434.97 80.58L435.65 80.51L436.33 80.57L437.02 80.57L437.71 80.59L438.4 80.53L439.1 80.66L439.8 80.58L440.36 80.6L440.94 80.56L441.54 80.45L442.17 80.48L442.81 80.4L443.47 80.32L444.14 80.26L444.81 80.23L445.5 80.19L446.19 80.25L446.88 80.23L447.57 80.3L448.26 80.3L448.95 80.29L449.62 80.11L450.29 80.04L450.94 79.95L451.58 79.95L452.2 79.95L452.8 79.96L453.37 79.94L453.92 79.83L454.44 79.8L454.93 79.8L455.39 79.7L455.82 79.65L456.2 79.71L457.57 79.82L458.07 80.22L458.23 80.52L458.53 80.75L459.5 80.88L459.91 80.89L460.35 80.88L460.83 80.92L461.34 80.9L461.88 80.84L462.44 80.85L463.03 80.74L463.64 80.79L464.27 80.8L464.91 80.72L465.56 80.58L466.23 80.5L466.9 80.44L467.57 80.27L468.25 80.23L468.92 80.21L469.59 80.1L470.25 80.02L470.9 80.1L471.49 80.05L472.09 80.04L472.71 80.11L473.34 80.08L473.97 80L474.62 80.09L475.26 80.01L475.91 79.9L476.57 79.97L477.22 79.89L477.88 79.89L478.53 79.99L479.17 80L479.81 79.87L480.45 79.89L481.07 79.88L481.69 79.88L482.29 79.81L482.87 79.84L483.45 79.74L484 79.71L484.71 79.67L485.42 79.73L486.11 79.53L486.8 79.52L487.47 79.35L488.13 79.29L488.78 79.16L489.41 79.07L490.03 79.03L490.63 78.89L491.21 78.73L491.77 78.62L492.31 78.53L492.83 78.63L493.33 78.63L493.8 78.71L494.61 78.76L495.25 78.78L495.78 79.05L496.24 79.35L496.71 79.62L497.24 79.82L497.88 79.97L498.7 80.09L499.18 80.18L499.71 80.13L500.27 80.15L500.87 80.14L501.48 80.22L502.13 80.21L502.78 80.22L503.45 80.18L504.12 80.04L504.8 79.93L505.47 79.91L506.13 79.84L506.78 79.82L507.41 79.85L508.02 79.9L508.6 79.86L509.3 79.88L510.03 79.75L510.76 79.73L511.49 79.85L512.22 79.75L512.92 79.75L513.61 79.68L514.26 79.65L514.86 79.8L515.42 79.9L515.92 79.88L516.35 79.77L516.7 79.74" fill="none" stroke="#2a2a2a" stroke-width="1.3" stroke-linejoin="round"/>
<path d="M341.1 0L341.1 44.5L341.35 44.77L341.76 45.11L342.5 45.1L342.83 44.95L343.22 44.71L343.66 44.41L344.13 43.99L344.62 43.5L345.13 43.34L345.62 42.82L346.09 42.69L346.52 42.48L346.9 42.22L347.43 42.46L347.86 42.61L348.25 43.17L348.63 43.52L349.03 43.85L349.5 44.18L349.95 44.42L350.41 44.03L350.89 43.71L351.4 43.6L351.93 43.61L352.5 43.41L353.1 43.32L353.51 43.66L353.96 43.49L354.42 43.95L354.91 44.05L355.4 44.19L355.9 44.41L356.39 44.79L356.88 45.39L357.34 45.52L357.79 45.92L358.2 46.25L358.73 46.47L359.24 46.8L359.72 46.85L360.18 47L360.62 47.27L361.03 47.78L361.43 48.05L361.8 48.27L362.24 48.84L362.61 49.36L362.94 49.83L363.27 50.51L363.61 50.91L364 50.84L364.36 50.78L364.73 50.44L365.12 50.15L365.52 49.65L365.94 48.95L366.4 48.82L366.9 48.33L367.32 48.35L367.78 48.65L368.26 48.65L368.76 48.97L369.27 49.07L369.79 49.58L370.3 49.99L370.81 50.18L371.3 50.43L371.86 50.24L372.43 50.27L373 50.15L373.57 49.99L374.13 49.77L374.66 49.8L375.15 49.84L375.6 49.64L376.15 49.74L376.53 49.63L376.89 50.04L377.33 50.35L378 50.79L378.41 50.9L378.89 50.72L379.42 50.72L379.98 50.9L380.57 50.7L381.17 50.87L381.76 50.86L382.34 50.88L382.88 50.93L383.37 51.39L383.8 51.39L384.36 51.69L384.82 52.17L385.2 52.9L385.55 53.11L385.9 53.58L386.27 53.98L386.7 54.38L387.18 54.46L387.68 54.38L388.2 53.88L388.73 53.54L389.28 53.23L389.83 53.29L390.4 53.4L390.85 53.15L391.3 53.13L391.76 53.26L392.23 53.46L392.7 53.81L393.19 54.17L393.68 54.32L394.18 54.37L394.7 54.7L395.19 54.92L395.7 55.23L396.24 55.67L396.79 55.86L397.34 55.97L397.88 56.16L398.41 56.38L398.91 56.25L399.38 56.68L399.8 56.9L400.39 57.21L400.87 57.43L401.29 57.42L401.7 57.47L402.16 57.33L402.7 57.47L403.13 57.15L403.59 56.86L404.09 56.63L404.6 56.33L405.12 56.12L405.64 55.74L406.15 55.42L406.64 55.29L407.1 55.21L407.66 55.38L408.18 55.42L408.69 56.03L409.19 56.36L409.69 56.45L410.19 56.68L410.7 56.93L411.21 57.12L411.71 57.17L412.2 57.63L412.7 58L413.23 58L413.79 58.09L414.4 58.02L414.87 58.03L415.37 58.22L415.9 58.34L416.44 58.75L417 58.69L417.56 58.65L418.1 59.17L418.63 59.28L419.13 59.21L419.6 59.45L420.21 59.46L420.79 59.86L421.33 60.42L421.85 60.76L422.34 60.94L422.83 60.84L423.3 60.83L423.81 60.58L424.27 60.53L424.71 60.17L425.16 59.94L425.64 59.53L426.2 59.36L426.62 59.7L427.06 60.1L427.53 60.4L428.01 60.71L428.51 61.06L429.01 61.37L429.51 61.44L430.01 61.75L430.5 61.93L430.98 61.96L431.47 62.08L431.96 62.37L432.45 62.61L432.94 63.03L433.43 63.44L433.92 63.44L434.41 63.71L434.9 63.87L435.39 63.89L435.88 63.51L436.37 63.14L436.86 62.84L437.35 62.57L437.84 62.36L438.33 62.41L438.82 62.56L439.3 62.65L439.78 62.62L440.25 62.82L440.71 63.14L441.17 63.11L441.64 63.54L442.11 64.03L442.59 64.34L443.09 64.57L443.6 64.61L444.08 64.51L444.59 64.81L445.12 64.75L445.65 64.99L446.19 65.2L446.72 65.03L447.25 64.94L447.76 65.17L448.24 65.15L448.7 64.85L449.3 64.6L449.86 64.37L450.39 64.52L450.89 64.43L451.39 63.96L451.89 64.01L452.4 64.1L452.93 64.01L453.47 63.84L454.01 63.91L454.55 63.78L455.06 63.71L455.55 64.2L456 64.31L456.62 64.37L457.11 64.66L457.64 64.62L458.4 64.93L458.8 65.06L459.25 64.88L459.73 64.86L460.25 64.93L460.79 65L461.34 65.27L461.89 65.3L462.44 65.45L462.98 65.44L463.5 65.88L464 65.88L464.49 65.99L464.98 66.18L465.46 66.49L465.95 66.46L466.44 66.75L466.94 66.74L467.44 66.8L467.96 66.87L468.5 66.68L469.01 66.82L469.53 66.78L470.07 66.68L470.61 67.04L471.17 66.91L471.72 67.01L472.28 67.19L472.82 67.22L473.36 67.14L473.89 67.22L474.4 67.32L474.96 67.53L475.52 67.36L476.08 67.56L476.64 67.57L477.19 67.65L477.71 68L478.22 68.1L478.68 68.24L479.12 68.46L479.5 68.68L480.22 68.68L480.69 68.79L481.09 68.89L481.6 69.14L481.97 69.47L482.37 69.7L482.79 70.07L483.22 70.41L483.66 70.98L484.08 71.28L484.5 71.59L485 71.89L485.42 71.72L485.87 71.79L486.46 71.99L487.3 72L487.69 71.64L488.12 71.42L488.6 71.43L489.12 71.22L489.66 71.15L490.22 70.98L490.8 71.15L491.38 71.25L491.95 71.31L492.52 70.93L493.06 70.98L493.58 70.94L494.06 70.64L494.5 70.83L495.18 70.92L495.8 70.56L496.36 70.72L496.87 70.51L497.37 70.43L497.87 70.65L498.37 70.68L498.9 70.38L499.47 70.39L500.05 70.46L500.65 70.44L501.24 70.4L501.81 70.5L502.35 70.82L502.86 70.71L503.3 71.01L503.78 71.32L504.14 71.49L504.45 71.96L504.74 72.55L505.08 72.93L505.5 72.97L505.94 73.45L506.43 73.59L506.94 73.73L507.48 73.34L508.03 73.21L508.57 73.01L509.1 73.29L509.63 73.17L510.19 73.02L510.75 73.08L511.3 73.34L511.82 73.43L512.3 73.22L512.7 73.12L513.32 73.81L513.7 74.32L514.2 74.75L514.68 74.52L515.25 74.33L515.83 74.49L516.34 74.39L516.7 74.16" fill="none" stroke="#4a4a4a" stroke-width="0.8" stroke-dasharray="1 0.6"/>
</g>
<path d="M349.5 85.9L507.1 85.9" stroke="#19abe5" stroke-width="2"/>
<path d="M511.2 85.9L506.6 88.2L506.6 83.6Z" fill="#19abe5"/>
<path d="M349.5 37.9L507.78 69.69" stroke="#19abe5" stroke-width="2"/>
<path d="M511.8 70.5L506.84 71.85L507.74 67.34Z" fill="#19abe5"/>
<g font-family='"Liberation Sans", Arial, sans-serif' font-size="7.5" fill="#222" stroke="#222" stroke-width="0.15"><text x="416.2" y="21.5">Material: 6331</text><text x="416.2" y="30.1">Injection Speed: 60%</text><text x="416.2" y="38.7"><tspan font-style="italic">V/P</tspan><tspan dx="1" font-size="7.6">Switchover Point: 11 mm</tspan></text><text x="416.2" y="47.3">Packing Pressure: 11 bar</text></g>
<path d="M440.6 123.3H457" stroke="#111" stroke-width="1.1"/>
<path d="M440.6 129.7H457" stroke="#999" stroke-width="1.4" stroke-dasharray="1.5 0.6"/>
<g font-family='"Liberation Sans", Arial, sans-serif' font-size="6.4" fill="#222" stroke="#222" stroke-width="0.15"><text x="459" y="126.2">Nozzle Pressure</text><text x="459" y="132.2">Screw Position</text></g>
<clipPath id="clipc"><rect x="179.5" y="188.1" width="198.4" height="129.2"/></clipPath>
<rect x="141.5" y="180.6" width="267" height="160.2" fill="#fff" stroke="#6e6e6e" stroke-width="1.3"/>
<path d="M179.5 188.1H377.9V317.3H179.5Z" fill="none" stroke="#3c3c3c" stroke-width="1"/>
<path d="M177 317.3H179.5M177.9 313.61H179.5M177.9 309.92H179.5M177.9 306.23H179.5M177.9 302.53H179.5M177 298.84H179.5M177.9 295.15H179.5M177.9 291.46H179.5M177.9 287.77H179.5M177.9 284.08H179.5M177 280.39H179.5M177.9 276.69H179.5M177.9 273H179.5M177.9 269.31H179.5M177.9 265.62H179.5M177 261.93H179.5M177.9 258.24H179.5M177.9 254.55H179.5M177.9 250.85H179.5M177.9 247.16H179.5M177 243.47H179.5M177.9 239.78H179.5M177.9 236.09H179.5M177.9 232.4H179.5M177.9 228.71H179.5M177 225.01H179.5M177.9 221.32H179.5M177.9 217.63H179.5M177.9 213.94H179.5M177.9 210.25H179.5M177 206.56H179.5M177.9 202.87H179.5M177.9 199.17H179.5M177.9 195.48H179.5M177.9 191.79H179.5M177 188.1H179.5M377.9 317.3H380.4M377.9 312.13H379.5M377.9 306.96H379.5M377.9 301.8H379.5M377.9 296.63H379.5M377.9 291.46H380.4M377.9 286.29H379.5M377.9 281.12H379.5M377.9 275.96H379.5M377.9 270.79H379.5M377.9 265.62H380.4M377.9 260.45H379.5M377.9 255.28H379.5M377.9 250.12H379.5M377.9 244.95H379.5M377.9 239.78H380.4M377.9 234.61H379.5M377.9 229.44H379.5M377.9 224.28H379.5M377.9 219.11H379.5M377.9 213.94H380.4M377.9 208.77H379.5M377.9 203.6H379.5M377.9 198.44H379.5M377.9 193.27H379.5M377.9 188.1H380.4M179.5 315.3V317.3M185.17 315.3V317.3M190.84 315.3V317.3M196.51 315.3V317.3M202.17 315.3V317.3M207.84 315.3V317.3M213.51 315.3V317.3M219.18 315.3V317.3M224.85 315.3V317.3M230.52 315.3V317.3M236.19 315.3V317.3M241.85 315.3V317.3M247.52 315.3V317.3M253.19 315.3V317.3M258.86 315.3V317.3M264.53 315.3V317.3M270.2 315.3V317.3M275.87 315.3V317.3M281.53 315.3V317.3M287.2 315.3V317.3M292.87 315.3V317.3M298.54 315.3V317.3M304.21 315.3V317.3M309.88 315.3V317.3M315.55 315.3V317.3M321.21 315.3V317.3M326.88 315.3V317.3M332.55 315.3V317.3M338.22 315.3V317.3M343.89 315.3V317.3M349.56 315.3V317.3M355.23 315.3V317.3M360.89 315.3V317.3M366.56 315.3V317.3M372.23 315.3V317.3M377.9 315.3V317.3" fill="none" stroke="#333" stroke-width="0.9"/>
<g font-family='"Liberation Sans", Arial, sans-serif' font-size="7.8" fill="#222" stroke="#222" stroke-width="0.15"><text x="173.2" y="320.05" text-anchor="end">0</text><text x="173.2" y="301.59" text-anchor="end">50</text><text x="173.2" y="283.14" text-anchor="end">100</text><text x="173.2" y="264.68" text-anchor="end">150</text><text x="173.2" y="246.22" text-anchor="end">200</text><text x="173.2" y="227.76" text-anchor="end">250</text><text x="173.2" y="209.31" text-anchor="end">300</text><text x="173.2" y="190.85" text-anchor="end">350</text><text x="384.3" y="320.05">8</text><text x="384.3" y="294.21">9</text><text x="384.3" y="268.37">10</text><text x="384.3" y="242.53">11</text><text x="384.3" y="216.69">12</text><text x="384.3" y="190.85">13</text><text x="179.5" y="328.8" text-anchor="middle">0</text><text x="207.84" y="328.8" text-anchor="middle">0.5</text><text x="236.19" y="328.8" text-anchor="middle">1</text><text x="264.53" y="328.8" text-anchor="middle">1.5</text><text x="292.87" y="328.8" text-anchor="middle">2</text><text x="321.21" y="328.8" text-anchor="middle">2.5</text><text x="349.56" y="328.8" text-anchor="middle">3</text><text x="377.9" y="328.8" text-anchor="middle">3.5</text></g>
<g font-family='"Liberation Sans", Arial, sans-serif' font-size="7.6" fill="#222" stroke="#222" stroke-width="0.15"><text x="278.7" y="336.8" text-anchor="middle">Time (s)</text><text transform="translate(154 256.9) rotate(-90)" text-anchor="middle">Nozzle Pressure (bar)</text><text transform="translate(400.3 254.1) rotate(-90)" text-anchor="middle" font-size="7.7">Screw Position (mm)</text></g>
<g clip-path="url(#clipc)">
<path d="M179.5 317.3L179.93 317.75L180.54 318.51L181.24 318.66L181.9 317.3L181.98 316.98L182.05 316.64L182.13 316.26L182.21 315.86L182.29 315.44L182.37 314.98L182.45 314.51L182.53 314.01L182.61 313.49L182.69 312.96L182.77 312.4L182.85 311.82L182.93 311.22L183.01 310.61L183.09 309.99L183.17 309.34L183.25 308.69L183.33 308.02L183.41 307.34L183.49 306.65L183.57 305.95L183.64 305.24L183.72 304.53L183.8 303.8L183.88 303.07L183.95 302.34L184.03 301.6L184.11 300.86L184.18 300.12L184.25 299.38L184.33 298.64L184.4 297.9L184.45 297.38L184.5 296.85L184.55 296.3L184.6 295.75L184.65 295.19L184.7 294.61L184.76 294.03L184.81 293.44L184.86 292.84L184.91 292.24L184.96 291.62L185.01 291L185.07 290.38L185.12 289.75L185.17 289.11L185.22 288.47L185.27 287.83L185.32 287.18L185.37 286.54L185.42 285.88L185.47 285.23L185.52 284.58L185.57 283.92L185.62 283.27L185.67 282.62L185.71 281.97L185.76 281.32L185.81 280.67L185.85 280.02L185.9 279.38L185.94 278.74L185.98 278.11L186.03 277.48L186.07 276.86L186.11 276.24L186.15 275.63L186.19 275.03L186.23 274.43L186.27 273.84L186.3 273.26L186.34 272.69L186.37 272.13L186.41 271.58L186.44 271.04L186.47 270.52L186.5 270L186.54 269.25L186.58 268.5L186.61 267.77L186.65 267.04L186.67 266.31L186.7 265.6L186.72 264.9L186.74 264.2L186.76 263.52L186.78 262.84L186.79 262.17L186.8 261.51L186.82 260.86L186.83 260.22L186.84 259.59L186.85 258.97L186.86 258.36L186.87 257.76L186.88 257.18L186.89 256.6L186.9 256.03L186.91 255.47L186.93 254.93L186.94 254.4L186.96 253.88L186.97 253.37L186.99 252.87L187.02 252.38L187.04 251.91L187.07 251.45L187.1 251L187.18 250.06L187.26 249.21L187.35 248.42L187.44 247.7L187.54 247.05L187.64 246.44L187.75 245.88L187.86 245.35L187.97 244.86L188.08 244.38L188.19 243.93L188.29 243.49L188.4 243.05L188.5 242.6L188.7 241.75L188.89 241L189.09 240.34L189.29 239.76L189.49 239.25L189.69 238.8L189.9 238.4L190.41 237.67L190.94 237.29L191.5 237.3L191.85 237.57L192.21 238.04L192.58 238.63L192.98 239.24L193.4 239.8L193.84 240.38L194.3 241.03L194.78 241.64L195.31 242.1L195.9 242.3L196.38 242.18L196.92 241.84L197.5 241.37L198.08 240.86L198.64 240.42L199.16 240.14L199.6 240.1L199.97 240.3L200.29 240.64L200.57 241.11L200.82 241.7L201.05 242.39L201.27 243.16L201.5 244L201.61 244.46L201.72 244.97L201.83 245.51L201.93 246.09L202.03 246.69L202.12 247.32L202.22 247.96L202.31 248.6L202.41 249.25L202.5 249.9L202.6 250.53L202.69 251.14L202.8 251.74L202.9 252.3L203.04 253L203.17 253.7L203.31 254.4L203.45 255.09L203.59 255.77L203.73 256.43L203.87 257.07L204.02 257.68L204.18 258.26L204.34 258.8L204.5 259.3L204.8 260.11L205.11 260.8L205.43 261.4L205.78 261.92L206.16 262.38L206.6 262.8L207.11 263.17L207.68 263.46L208.29 263.7L208.91 263.89L209.52 264L210.1 264.18L210.72 264.28L211.28 264.35L211.85 264.37L212.47 264.31L213.2 264.37L213.73 264.65L214.3 264.81L214.91 265.02L215.54 265.42L216.18 265.62L216.83 265.88L217.48 265.98L218.1 266.05L218.7 265.9L219.29 265.81L219.87 265.67L220.45 265.39L221.05 265.17L221.66 264.94L222.31 264.64L223 264.63L223.58 264.62L224.17 264.58L224.78 264.55L225.4 264.75L226.04 264.82L226.7 264.97L227.37 265.12L228.07 265.22L228.77 265.35L229.5 265.34L230.08 265.44L230.67 265.45L231.28 265.6L231.9 265.69L232.53 265.62L233.17 265.63L233.82 265.69L234.47 265.89L235.12 265.91L235.77 265.98L236.42 265.96L237.06 265.99L237.7 265.97L238.33 265.94L238.96 265.94L239.59 265.91L240.22 265.92L240.85 265.84L241.48 265.8L242.12 265.72L242.75 265.66L243.38 265.52L244.01 265.31L244.64 265.31L245.27 265.29L245.9 265.24L246.52 265.13L247.11 265.08L247.69 264.92L248.26 264.95L248.83 264.89L249.4 264.78L249.99 264.66L250.59 264.73L251.22 264.78L251.87 264.6L252.57 264.63L253.31 264.55L254.1 264.43L254.62 264.4L255.16 264.46L255.73 264.5L256.31 264.33L256.92 264.35L257.54 264.23L258.17 264.29L258.81 264.22L259.46 264.28L260.12 264.32L260.78 264.23L261.45 264.27L262.11 264.14L262.78 264.02L263.44 264.05L264.09 263.95L264.74 263.92L265.37 263.94L266 263.99L266.61 263.93L267.2 263.87L267.84 264.01L268.47 263.98L269.1 264.1L269.71 264.16L270.32 264.1L270.93 264.1L271.52 264.13L272.12 264.18L272.71 264.22L273.3 264.25L273.89 264.29L274.47 264.4L275.06 264.38L275.64 264.37L276.23 264.44L276.82 264.39L277.41 264.4L278 264.55L278.6 264.54L279.19 264.55L279.78 264.46L280.35 264.51L280.91 264.57L281.47 264.51L282.03 264.6L282.59 264.66L283.14 264.59L283.7 264.68L284.27 264.69L284.85 264.75L285.43 264.73L286.03 264.79L286.64 264.83L287.27 264.72L287.92 264.67L288.59 264.77L289.28 264.88L290 264.79L290.52 264.79L291.06 264.81L291.6 264.76L292.16 264.74L292.73 264.72L293.31 264.72L293.9 264.75L294.5 264.71L295.1 264.69L295.71 264.76L296.33 264.64L296.95 264.68L297.58 264.72L298.21 264.65L298.84 264.59L299.48 264.67L300.12 264.59L300.76 264.53L301.39 264.55L302.03 264.6L302.67 264.5L303.3 264.49L303.93 264.48L304.55 264.56L305.18 264.52L305.79 264.58L306.4 264.47L307.01 264.44L307.63 264.49L308.25 264.56L308.88 264.5L309.51 264.42L310.15 264.36L310.79 264.41L311.43 264.37L312.08 264.46L312.72 264.52L313.36 264.41L314 264.38L314.64 264.46L315.27 264.47L315.9 264.5L316.52 264.42L317.14 264.34L317.74 264.32L318.34 264.41L318.93 264.35L319.51 264.33L320.08 264.33L320.63 264.32L321.17 264.31L321.7 264.4L322.21 264.28L322.7 264.18L323.5 264.3L324.27 264.32L325 264.32L325.7 264.18L326.38 264.18L327.03 264.15L327.66 263.96L328.26 263.94L328.85 263.92L329.42 263.85L329.97 263.76L330.51 263.65L331.05 263.6L331.57 263.54L332.09 263.48L332.6 263.56L333.34 263.57L333.96 263.73L334.49 263.72L334.97 263.95L335.44 264.1L335.95 264.28L336.53 264.42L337.22 264.53L338.06 264.55L339.1 264.45L339.54 264.53L340.01 264.45L340.52 264.43L341.04 264.49L341.6 264.48L342.18 264.45L342.77 264.53L343.39 264.49L344.02 264.4L344.66 264.32L345.32 264.39L345.98 264.34L346.66 264.36L347.33 264.26L348.01 264.17L348.69 264.18L349.37 264.22L350.04 264.1L350.7 264.16L351.36 264.2L352 264.18L352.63 264.17L353.25 264L353.84 264.03L354.42 264.08L354.97 263.95L355.5 263.93L356.23 263.92L356.94 263.98L357.65 264L358.34 264.04L359.02 264.13L359.69 264.04L360.35 264.03L360.99 264.05L361.61 264.09L362.22 264.11L362.82 264.32L363.39 264.43L363.95 264.34L364.49 264.39L365.01 264.4L365.52 264.41L366 264.42L366.46 264.5L366.9 264.52L367.82 264.46L368.55 264.35L369.16 264.27L369.68 264.14L370.16 264.11L370.64 264.1L371.17 264.01L371.8 263.91L372.39 263.9L373.04 263.96L373.73 264.07L374.45 264.2L375.16 264.22L375.84 264.35L376.48 264.41L377.05 264.43L377.53 264.45L377.9 264.49" fill="none" stroke="#2a2a2a" stroke-width="1.3" stroke-linejoin="round"/>
<path d="M200 150L200.1 188L200.11 188.26L200.13 188.55L200.14 188.85L200.15 189.18L200.17 189.52L200.19 189.88L200.2 190.26L200.22 190.66L200.24 191.08L200.26 191.51L200.28 191.95L200.3 192.42L200.32 192.89L200.34 193.38L200.36 193.88L200.39 194.4L200.41 194.92L200.43 195.46L200.46 196.01L200.48 196.56L200.51 197.13L200.53 197.71L200.56 198.29L200.59 198.88L200.61 199.47L200.64 200.08L200.67 200.68L200.69 201.3L200.72 201.91L200.75 202.53L200.78 203.15L200.81 203.78L200.83 204.4L200.86 205.03L200.89 205.66L200.92 206.28L200.95 206.91L200.98 207.53L201 208.16L201.03 208.77L201.06 209.39L201.09 210L201.12 210.61L201.14 211.21L201.17 211.8L201.2 212.39L201.23 212.97L201.25 213.54L201.28 214.1L201.31 214.66L201.33 215.2L201.36 215.73L201.38 216.25L201.41 216.76L201.43 217.26L201.46 217.75L201.48 218.22L201.5 218.67L201.53 219.11L201.55 219.54L201.57 219.95L201.59 220.34L201.61 220.71L201.63 221.07L201.65 221.41L201.67 221.73L201.68 222.02L201.7 222.3L201.93 225.46L202.04 225.02L202.3 224.2L202.67 223.97L203.14 223.28L203.66 223.04L204.2 222.59L204.56 222.96L204.91 223.14L205.29 223.63L205.69 224.53L206.12 224.8L206.6 225.23L207.07 225.36L207.6 225.43L208.16 225.49L208.73 225.36L209.29 225.58L209.82 225.29L210.3 225.19L210.88 224.9L211.4 224.71L211.88 224.54L212.34 224.61L212.8 224.39L213.32 224.29L213.78 224.5L214.3 225.13L215 225.05L215.41 225.24L215.88 225.24L216.4 225.41L216.95 225.34L217.51 225.5L218.06 225.5L218.59 225.57L219.08 225.74L219.5 225.66L220.1 225.36L220.55 225.08L220.96 225.33L221.41 225.21L222 225.07L222.39 225.42L222.81 225.47L223.25 225.64L223.71 225.87L224.2 225.77L224.71 225.84L225.24 226.23L225.81 226.13L226.4 226.48L226.84 226.37L227.32 226.69L227.82 226.94L228.35 227.28L228.89 227.49L229.44 227.51L229.99 227.46L230.54 227.48L231.07 227.75L231.58 227.93L232.06 227.84L232.5 228.24L232.9 228.25L233.64 228.26L234.24 227.81L234.75 227.39L235.22 226.92L235.69 226.82L236.2 226.86L236.57 227.13L236.94 227.43L237.31 228.04L237.69 228.61L238.06 228.78L238.43 229.21L238.79 229.51L239.15 230.07L239.5 230.63L239.99 230.75L240.46 231.27L240.91 231.42L241.37 231.43L241.86 231.81L242.4 231.72L242.8 231.46L243.21 231.28L243.65 230.87L244.1 230.54L244.56 230.18L245.03 229.82L245.49 229.59L245.95 229.27L246.4 229.04L246.84 229.03L247.28 229.19L247.72 229.66L248.16 230.01L248.6 230.61L249.04 230.96L249.49 231.39L249.94 231.88L250.4 231.73L250.93 231.7L251.47 231.77L252.02 231.96L252.57 232.17L253.12 232.37L253.66 232.31L254.19 232.62L254.7 232.36L255.26 232.73L255.8 232.69L256.33 233.08L256.85 232.94L257.37 233.42L257.88 233.64L258.4 233.95L258.92 233.98L259.43 233.89L259.94 234.34L260.45 234.38L260.96 234.31L261.48 234.62L262 234.78L262.53 234.91L263.07 234.87L263.62 234.89L264.17 235.18L264.72 235.31L265.26 235.27L265.8 235.46L266.33 235.75L266.87 235.93L267.4 235.94L267.93 235.96L268.45 236.01L268.98 236.05L269.5 236.16L269.94 236.44L270.37 236.55L270.79 237.06L271.21 237.44L271.64 237.72L272.1 237.67L272.58 237.89L273.1 238.09L273.55 238.01L274.02 238.4L274.52 238.48L275.03 238.37L275.56 238.39L276.09 238.13L276.62 238L277.16 238.08L277.68 238.25L278.2 238.32L278.71 238.08L279.21 238.32L279.71 238.66L280.21 238.81L280.71 239.05L281.21 239.27L281.72 239.06L282.24 239.04L282.76 239.21L283.3 239.53L283.81 239.4L284.33 239.63L284.87 239.69L285.42 239.56L285.97 239.54L286.52 239.7L287.06 239.7L287.6 239.47L288.12 239.65L288.62 239.46L289.1 239.51L289.65 239.94L290.17 240.22L290.67 240.24L291.16 240.38L291.63 240.74L292.09 241.16L292.56 241.38L293.02 241.69L293.5 241.77L294.06 241.85L294.63 241.75L295.21 241.53L295.79 241.4L296.35 241.31L296.88 241.23L297.36 241.32L297.8 241.07L298.49 240.8L299.01 240.96L299.48 240.84L300 241L300.41 241.05L300.83 241.58L301.27 241.75L301.7 242.04L302.11 242.65L302.5 243.04L302.8 243.37L303.09 244.2L303.36 244.72L303.62 245.26L303.88 246.06L304.14 246.49L304.4 246.65L304.64 246.27L304.84 246.05L305.03 245.49L305.23 244.98L305.48 244.2L305.79 243.8L306.2 243.53L306.58 243.21L307 243.15L307.46 243.16L307.95 243.28L308.47 243.33L309.03 243.32L309.63 243.04L310.25 243.21L310.9 243.42L311.32 243.26L311.76 243.46L312.23 243.85L312.72 244.18L313.22 244.46L313.74 244.31L314.26 244.6L314.79 244.99L315.31 245.19L315.83 245.23L316.34 245.2L316.84 245.71L317.32 246L317.77 246.09L318.2 246.03L318.81 246.26L319.38 246.36L319.94 246.34L320.47 246.23L320.98 245.98L321.47 245.8L321.95 245.69L322.41 245.57L322.86 245.59L323.3 245.37L323.89 245.53L324.41 245.37L324.91 245.15L325.38 245.05L325.86 245.06L326.36 245.11L326.9 245.38L327.36 245.25L327.84 245.34L328.34 245.52L328.84 245.68L329.36 246.16L329.86 246.21L330.36 246.32L330.84 246.75L331.3 247.15L331.79 247.55L332.26 247.79L332.71 247.97L333.15 248.49L333.59 248.81L334.02 248.94L334.46 249.1L334.9 249.36L335.43 249.43L335.98 249.28L336.54 248.63L337.09 248.23L337.61 247.9L338.09 247.5L338.5 247.53L339.14 246.92L339.56 246.95L340.2 246.99L340.55 247.15L340.93 247.3L341.34 247.81L341.79 248.07L342.26 248.54L342.75 248.94L343.27 249.15L343.8 249.48L344.25 249.41L344.72 249.35L345.22 249.59L345.73 249.58L346.26 249.48L346.79 249.63L347.32 249.63L347.86 249.48L348.38 249.8L348.9 249.84L349.41 250.15L349.91 250.15L350.41 250.41L350.91 250.28L351.41 250.25L351.91 250.44L352.42 250.72L352.94 250.94L353.46 251L354 250.8L354.5 250.86L355.02 250.73L355.55 250.85L356.09 251.2L356.63 251.1L357.17 251.23L357.71 251.27L358.25 251.06L358.78 251.25L359.3 251.06L359.8 251.05L360.35 251.27L360.89 251.18L361.43 251.59L361.96 251.56L362.49 251.68L363 251.95L363.5 251.69L363.99 252.05L364.45 251.79L364.9 251.99L365.49 252.22L366.03 252.59L366.54 252.55L367.03 252.91L367.51 253.03L367.99 253.07L368.5 252.98L369.04 253.01L369.62 253.15L370.2 253.24L370.77 253.33L371.31 253.6L371.79 253.51L372.2 253.55L372.82 252.93L373.18 252.33L373.6 252.36L373.94 252.79L374.3 253.01L374.68 253.26L375.08 253.68L375.5 254L376.12 254.08L376.82 254.06L377.46 253.8L377.9 253.81" fill="none" stroke="#4a4a4a" stroke-width="0.8" stroke-dasharray="1 0.6"/>
</g>
<path d="M212 269.5L371 269.5" stroke="#19abe5" stroke-width="2"/>
<path d="M375.1 269.5L370.5 271.8L370.5 267.2Z" fill="#19abe5"/>
<path d="M212.2 217.7L370.78 248.81" stroke="#19abe5" stroke-width="2"/>
<path d="M374.8 249.6L369.84 250.97L370.73 246.46Z" fill="#19abe5"/>
<g font-family='"Liberation Sans", Arial, sans-serif' font-size="7.5" fill="#222" stroke="#222" stroke-width="0.15"><text x="278.1" y="198.3">Material: PT231</text><text x="278.1" y="206.9">Injection Speed: 60%</text><text x="278.1" y="215.5"><tspan font-style="italic">V/P</tspan><tspan dx="1" font-size="7.6">Switchover Point: 12 mm</tspan></text><text x="278.1" y="224.1">Packing Pressure: 10 bar</text></g>
<path d="M287.9 302.3H304.5" stroke="#111" stroke-width="1.1"/>
<path d="M287.9 309H304.5" stroke="#999" stroke-width="1.4" stroke-dasharray="1.5 0.6"/>
<g font-family='"Liberation Sans", Arial, sans-serif' font-size="6.4" fill="#222" stroke="#222" stroke-width="0.15"><text x="306" y="305.2">Nozzle Pressure</text><text x="306" y="311.5">Screw Position</text></g>
<g font-family='"Liberation Serif", "Times New Roman", serif' font-size="9.8" fill="#222"><text x="135.9" y="176.6" text-anchor="middle">(<tspan font-weight="bold">a</tspan>)</text><text x="414.1" y="176.6" text-anchor="middle">(<tspan font-weight="bold">b</tspan>)</text><text x="275" y="354.7" text-anchor="middle">(<tspan font-weight="bold">c</tspan>)</text></g>
</svg>
</body></html>
